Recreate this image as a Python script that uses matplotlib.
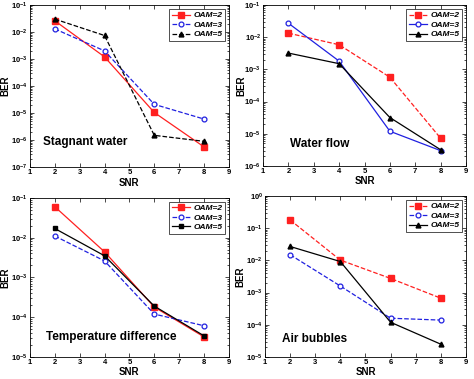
import matplotlib
matplotlib.use("Agg")
import matplotlib.pyplot as plt
from matplotlib.ticker import LogLocator, FixedLocator

plt.rcParams['font.family'] = ['Liberation Sans', 'DejaVu Sans']
plt.rcParams['font.weight'] = 'bold'
plt.rcParams['mathtext.fontset'] = 'custom'
plt.rcParams['mathtext.rm'] = 'Liberation Sans:bold'
plt.rcParams['mathtext.it'] = 'Liberation Sans:bold:italic'
plt.rcParams['mathtext.bf'] = 'Liberation Sans:bold'

snr = [2, 4, 6, 8]
labels = ["OAM=2", "OAM=3", "OAM=5"]

stagnant_oam2 = [2.6e-2, 1.2e-3, 1.05e-5, 5.6e-7]
stagnant_oam3 = [1.3e-2, 2.0e-3, 2.1e-5, 6.0e-6]
stagnant_oam5 = [3.0e-2, 7.4e-3, 1.5e-6, 9.0e-7]

flow_oam2 = [1.33e-2, 5.8e-3, 5.7e-4, 7.3e-6]
flow_oam3 = [2.7e-2, 1.8e-3, 1.2e-5, 3.0e-6]
flow_oam5 = [3.2e-3, 1.5e-3, 3.2e-5, 3.2e-6]

temp_oam2 = [6.0e-2, 4.4e-3, 1.8e-4, 3.2e-5]
temp_oam3 = [1.1e-2, 2.6e-3, 1.2e-4, 6.1e-5]
temp_oam5 = [1.7e-2, 3.5e-3, 1.9e-4, 3.4e-5]

bubble_oam2 = [1.8e-1, 1.02e-2, 2.75e-3, 6.7e-4]
bubble_oam3 = [1.5e-2, 1.6e-3, 1.6e-4, 1.4e-4]
bubble_oam5 = [2.7e-2, 9.2e-3, 1.2e-4, 2.5e-5]

titles = ["Stagnant water", "Water flow", "Temperature difference", "Air bubbles"]
ylims = [(1e-7, 1e-1), (1e-6, 1e-1), (1e-5, 1e-1), (1e-5, 1e0)]

panels = [
    (stagnant_oam2, stagnant_oam3, stagnant_oam5),
    (flow_oam2, flow_oam3, flow_oam5),
    (temp_oam2, temp_oam3, temp_oam5),
    (bubble_oam2, bubble_oam3, bubble_oam5),
]
# line styles per panel for (OAM=2, OAM=3, OAM=5)
styles = [
    ('-', '--', '--'),
    ('--', '-', '-'),
    ('-', '--', '-'),
    ('--', '--', '-'),
]
black_markers = ['^', '^', 's', '^']

positions = [
    [0.063, 0.559, 0.420, 0.428],
    [0.555, 0.562, 0.428, 0.425],
    [0.063, 0.058, 0.420, 0.420],
    [0.559, 0.058, 0.424, 0.425],
]
ylabel_x = [-0.10, -0.08, -0.10, -0.097]
text_pos = [(0.065, 0.155), (0.133, 0.137), (0.08, 0.126), (0.085, 0.11)]

fig = plt.figure(figsize=(4.74, 3.79), dpi=100)
for i in range(4):
    ax = fig.add_axes(positions[i])
    d2, d3, d5 = panels[i]
    s2, s3, s5 = styles[i]
    ax.semilogy(snr, d2, color='#ff2020', linestyle=s2, marker='s', markersize=4,
                linewidth=0.9, label=labels[0])
    ax.semilogy(snr, d3, color='#2020e0', linestyle=s3, marker='o', markersize=3.5,
                markerfacecolor='white', markeredgewidth=0.9, linewidth=0.9, label=labels[1])
    ax.semilogy(snr, d5, color='black', linestyle=s5, marker=black_markers[i], markersize=3.5,
                linewidth=0.9, label=labels[2])
    ax.set_xlim(1, 9)
    ax.set_ylim(*ylims[i])
    ax.xaxis.set_major_locator(FixedLocator(range(1, 10)))
    ax.yaxis.set_major_locator(LogLocator(base=10, numticks=15))
    ax.yaxis.set_minor_locator(LogLocator(base=10, subs=range(2, 10), numticks=15))
    ax.tick_params(which='both', direction='in', top=True, right=True, labelsize=5.5,
                   width=0.5, pad=1.5)
    ax.tick_params(which='major', length=3)
    ax.tick_params(which='minor', length=1.5)
    ax.tick_params(axis='x', which='minor', bottom=False, top=False)
    for sp in ax.spines.values():
        sp.set_linewidth(0.6)
    ax.set_xlabel("SNR", fontsize=7, fontweight='bold', labelpad=1)
    ax.set_ylabel("BER", fontsize=7, fontweight='bold')
    ax.yaxis.set_label_coords(ylabel_x[i], 0.5)
    leg = ax.legend(loc='upper right', prop={'style': 'italic', 'weight': 'bold', 'size': 6},
                    frameon=True, fancybox=False, edgecolor='black', handlelength=2.2,
                    borderpad=0.3, labelspacing=0.2, handletextpad=0.4, borderaxespad=0.5)
    leg.get_frame().set_linewidth(0.6)
    ax.text(text_pos[i][0], text_pos[i][1], titles[i], transform=ax.transAxes,
            fontsize=8.5, fontweight='bold', va='center', ha='left')

fig.savefig("out.png", dpi=100)
